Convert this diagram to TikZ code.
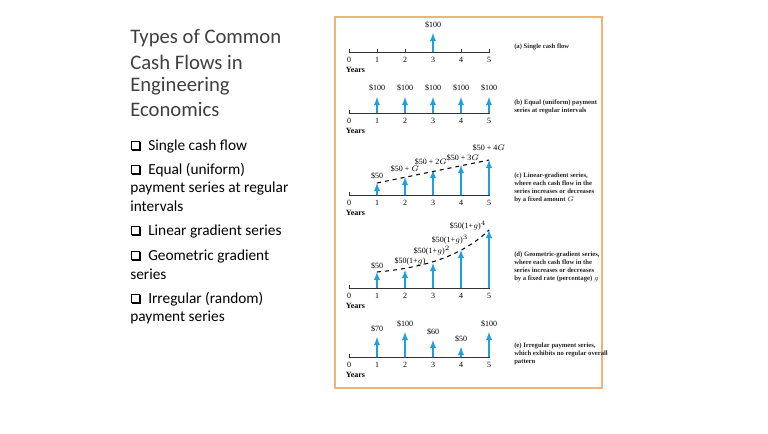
\documentclass[tikz,border=0pt]{standalone}
\usepackage{fontspec}
\setmainfont{Carlito}
\newfontfamily\tms{Liberation Serif}
\definecolor{arr}{RGB}{30,160,220}
\begin{document}
\begin{tikzpicture}[x=0.75pt,y=-0.75pt,
  cf/.style={draw=arr,line width=1.1pt,-latex},
  ax/.style={draw=black!80,line width=0.5pt},
  lbl/.style={font=\tms\fontsize{6}{7}\selectfont,inner sep=0.5pt},
  captxt/.style={font=\tms\bfseries\fontsize{5}{6}\selectfont,align=left,anchor=north west,inner sep=0pt,text=black!85},
  bl/.style={font=\fontsize{11.5}{13.5}\selectfont,anchor=west,inner sep=0pt}]
\useasboundingbox (0,0) rectangle (768,433);
\fill[white] (0,0) rectangle (768,433);
\draw[orange!60!brown!60,line width=1pt] (335,17) rectangle (602,388);
% title
\foreach \t/\y in {Types of Common/38,Cash Flows in/62,Engineering/86,Economics/109}
  \node[anchor=west,inner sep=0pt,font=\fontsize{15.5}{18}\selectfont,text=black!75] at (130,\y) {\t};
% bullets
\foreach \y in {146,170,231,256,299}
  {\draw[line width=0.5pt] (131,\y-5) rectangle (139,\y+3);
   \draw[line width=0.9pt] (140,\y-4) -- (140,\y+4) -- (132,\y+4);}
\node[bl] at (148,146) {Single cash flow};
\node[bl] at (148,170) {Equal (uniform)};
\node[bl] at (130,188) {payment series at regular};
\node[bl] at (130,206) {intervals};
\node[bl] at (148,231) {Linear gradient series};
\node[bl] at (148,256) {Geometric gradient};
\node[bl] at (130,274) {series};
\node[bl] at (148,299) {Irregular (random)};
\node[bl] at (130,317) {payment series};
% axes
\foreach \p/\ay in {a/52,b/113,c/195,d/288,e/357}{
  \draw[ax] (349,\ay) -- (490,\ay);
  \foreach \i in {0,...,5}{
    \coordinate (\p\i) at (349+28*\i,\ay);
    \draw[ax] (349+28*\i,\ay) -- (349+28*\i,\ay-3);
    \node[lbl] at (349+28*\i,\ay+8) {\i};}
  \node[lbl,anchor=west] at (345,\ay+18) {\textbf{Years}};
}
% (a)
\coordinate (ta) at (433,33);
\draw[cf] (a3) -- (ta);
\node[lbl] at (433,25) {\$100};
% (b)
\foreach \i in {1,...,5}{
  \coordinate (tb\i) at (349+28*\i,97);
  \draw[cf] (b\i) -- (tb\i);
  \node[lbl] at (349+28*\i,88) {\$100};}
% (c)
\foreach \i/\t in {1/183,2/177,3/170,4/165,5/160}{
  \coordinate (tc\i) at (349+28*\i,\t);
  \draw[cf] (c\i) -- (tc\i);}
\draw[dashed,line width=0.8pt] (tc1) -- (tc5);
\node[lbl] at (377,176) {\$50};
\node[lbl] at (405,169) {\$50 + $G$};
\node[lbl] at (431,162) {\$50 + 2$G$};
\node[lbl] at (463,158) {\$50 + 3$G$};
\node[lbl] at (489,148) {\$50 + 4$G$};
% (d)
\foreach \i/\t in {1/272,2/270,3/263,4/250,5/230}{
  \coordinate (td\i) at (349+28*\i,\t);
  \draw[cf] (d\i) -- (td\i);}
\draw[dashed,line width=0.8pt] (td1) .. controls (420,268) and (460,258) .. (td5);
\node[lbl] at (377,266) {\$50};
\node[lbl] at (410,261) {\$50(1+$g$)};
\node[lbl] at (432,251) {\$50(1+$g$)$^2$};
\node[lbl] at (450,240) {\$50(1+$g$)$^3$};
\node[lbl] at (468,226) {\$50(1+$g$)$^4$};
% (e)
\foreach \i/\t/\v in {1/337/70,2/332/100,3/340/60,4/347/50,5/332/100}{
  \coordinate (te\i) at (349+28*\i,\t);
  \draw[cf] (e\i) -- (te\i);
  \node[lbl,above=3pt] at (te\i) {\$\v};}
% captions
\node[captxt] at (514,44) {(a) Single cash flow};
\node[captxt] at (514,100) {(b) Equal (uniform) payment\\series at regular intervals};
\node[captxt] at (514,173) {(c) Linear-gradient series,\\where each cash flow in the\\series increases or decreases\\by a fixed amount $G$};
\node[captxt] at (514,252) {(d) Geometric-gradient series,\\where each cash flow in the\\series increases or decreases\\by a fixed rate (percentage) $g$};
\node[captxt] at (514,343) {(e) Irregular payment series,\\which exhibits no regular overall\\pattern};
\end{tikzpicture}
\end{document}
